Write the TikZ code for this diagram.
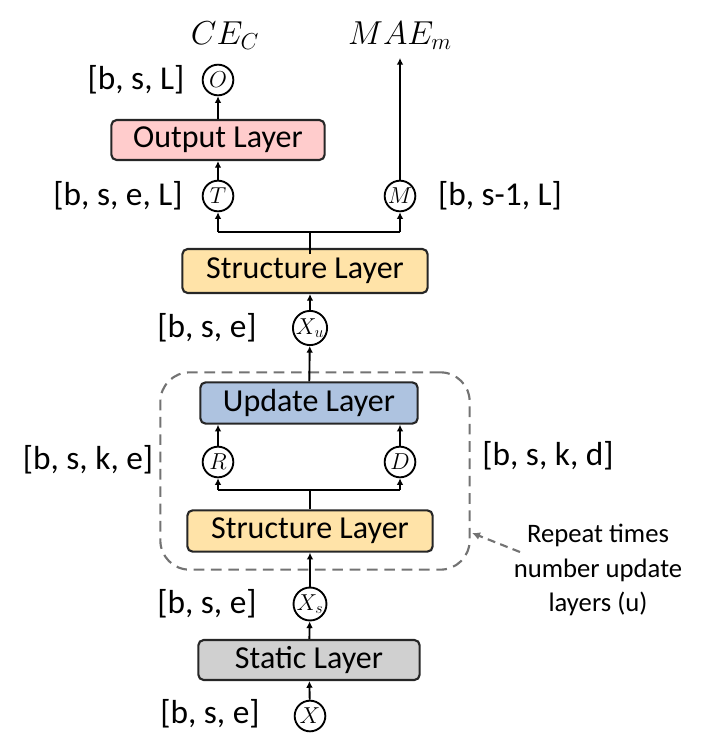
\documentclass[tikz,border=0pt]{standalone}
\usepackage{fontspec}
\setmainfont{Carlito}
\usetikzlibrary{arrows.meta}
\begin{document}
\begin{tikzpicture}[x=0.75pt,y=-0.75pt,
  lay/.style={draw=black!85,line width=1.6pt,rounded corners=4pt,font=\fontsize{24}{26}\selectfont,inner sep=0pt},
  var/.style={circle,draw=black,line width=1.4pt,minimum size=23pt,inner sep=0pt,font=\fontsize{18}{20}\selectfont},
  lbl/.style={font=\fontsize{25}{28}\selectfont},
  arr/.style={line width=1.4pt,-{Latex[length=5pt,width=5pt]}},
  ln/.style={line width=1.4pt}]
\useasboundingbox (0,0) rectangle (714,752);
\definecolor{pinkf}{HTML}{FFCCCC}
\definecolor{orf}{HTML}{FFE3A8}
\definecolor{bluf}{HTML}{AEC3E0}
\definecolor{grf}{HTML}{D0D0D0}
\node[draw=black!55,line width=1.6pt,dashed,dash pattern=on 8pt off 5pt,rounded corners=22pt,minimum width=232pt,minimum height=148pt] (rep) at (315,471) {};
\node[lay,fill=pinkf,minimum width=160pt,minimum height=30pt] (out) at (218,140) {Output Layer};
\node[lay,fill=orf,minimum width=184pt,minimum height=33pt] (st2) at (305,271) {Structure Layer};
\node[lay,fill=bluf,minimum width=163pt,minimum height=31pt] (up) at (309,403) {Update Layer};
\node[lay,fill=orf,minimum width=184pt,minimum height=31pt] (st1) at (310,531) {Structure Layer};
\node[lay,fill=grf,minimum width=166pt,minimum height=30pt] (sta) at (309,660) {Static Layer};
\node[var] (O) at (218,80) {$O$};
\node[var] (T) at (218,196) {$T$};
\node[var] (M) at (400,196) {$M$};
\node[var] (Xu) at (310,328) {$X_u$};
\node[var] (R) at (218,462) {$R$};
\node[var] (D) at (400,462) {$D$};
\node[var] (Xs) at (310,604) {$X_s$};
\node[var] (X) at (310,716) {$X$};
\node[font=\fontsize{24}{26}\selectfont] (ce) at (225,36) {$CE_C$};
\node[font=\fontsize{24}{26}\selectfont] (mae) at (400,36) {$MAE_m$};
\coordinate (mt) at (400,58);
\node[lbl] (l1) at (136,80) {[b, s, L]};
\node[lbl] (l2) at (118,196) {[b, s, e, L]};
\node[lbl] (l3) at (500,196) {[b, s-1, L]};
\node[lbl] (l4) at (207,328) {[b, s, e]};
\node[lbl] (l5) at (88,460) {[b, s, k, e]};
\node[lbl] (l6) at (548,456) {[b, s, k, d]};
\node[lbl] (l7) at (207,604) {[b, s, e]};
\node[lbl] (l8) at (210,714) {[b, s, e]};
\node[lbl,align=center,font=\fontsize{20}{26}\selectfont] (rt) at (598,570) {Repeat times\\number update\\layers (u)};
\draw[arr] (X) -- (sta);
\draw[arr] (sta) -- (Xs);
\draw[arr] (Xs) -- (st1);
\draw[ln] (st1.north) -- (310,490) coordinate (j1);
\draw[arr] (218,490) -- (R);
\draw[arr] (400,490) -- (D);
\draw[ln] (218,490) -- (400,490);
\draw[arr] (R) -- (R|-up.south);
\draw[arr] (D) -- (D|-up.south);
\draw[arr] (up) -- (Xu);
\draw[arr] (Xu) -- (Xu|-st2.south);
\draw[ln] (310,254) -- (310,232);
\draw[ln] (218,232) -- (400,232);
\draw[arr] (218,232) -- (T);
\draw[arr] (400,232) -- (M);
\draw[arr] (T) -- (out);
\draw[arr] (out) -- (O);
\draw[arr] (M) -- (mt);
\draw[line width=1.6pt,black!55,dash pattern=on 6pt off 4pt,-{Latex[length=6pt,width=6pt]}] (520,552) -- (472,533);
\end{tikzpicture}
\end{document}
